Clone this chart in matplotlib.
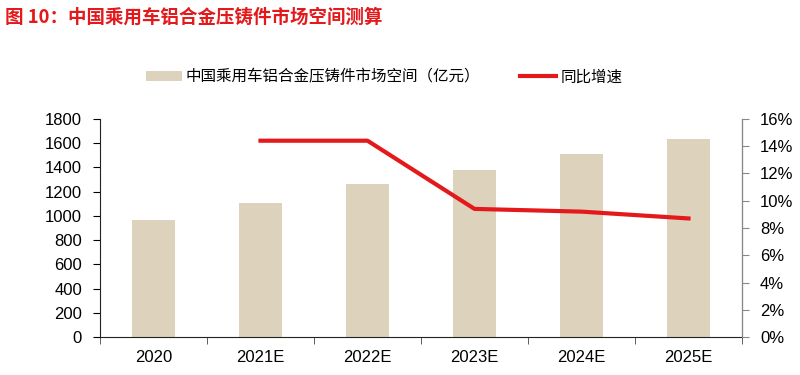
import matplotlib
matplotlib.use("Agg")
import matplotlib.pyplot as plt
import numpy as np

plt.rcParams['font.family'] = ['Liberation Sans', 'Noto Sans CJK SC', 'DejaVu Sans']

# data
years = ['2020', '2021E', '2022E', '2023E', '2024E', '2025E']
market = [966, 1106, 1263, 1379, 1511, 1635]
growth = [np.nan, 14.4, 14.4, 9.4, 9.2, 8.7]

bar_color = '#DDD3BD'
line_color = '#E3191C'

fig = plt.figure(figsize=(8, 3.75), dpi=100)
ax = fig.add_axes([0.125, 0.101, 0.8025, 0.582])
ax2 = ax.twinx()

x = np.arange(len(years))
ax.bar(x, market, width=0.4, color=bar_color, label='中国乘用车铝合金压铸件市场空间（亿元）', zorder=2)
ax2.plot(x, growth, color=line_color, lw=3, label='同比增速', zorder=3)

ax.set_xlim(-0.5, len(years) - 0.5)
ax.set_ylim(0, 1800)
ax.set_yticks(np.arange(0, 1801, 200))
ax2.set_ylim(0, 16)
ax2.set_yticks(np.arange(0, 17, 2))
ax2.set_yticklabels([f'{v}%' for v in range(0, 17, 2)])

ax.set_xticks(x)
ax.set_xticklabels(years)
ax.set_xticks(np.arange(-0.5, len(years), 1), minor=True)
ax.tick_params(axis='x', which='major', length=0, labelsize=12, pad=9)
ax.tick_params(axis='x', which='minor', length=5, direction='out', color='#444444')
ax.tick_params(axis='y', labelsize=12, length=5, direction='out', pad=8)
ax2.tick_params(axis='y', labelsize=12, length=5, direction='out', pad=8, color='#888888')

for a in (ax, ax2):
    a.spines['top'].set_visible(False)
ax.spines['left'].set_color('#222222')
ax.spines['bottom'].set_color('#222222')
ax2.spines['right'].set_color('#888888')
ax2.spines['left'].set_visible(False)
ax2.spines['bottom'].set_visible(False)

h1, l1 = ax.get_legend_handles_labels()
h2, l2 = ax2.get_legend_handles_labels()
fig.legend(h1 + h2, l1 + l2, loc='center', bbox_to_anchor=(0.48, 0.795), ncol=2,
           frameon=False, handlelength=2.3, handleheight=0.55,
           columnspacing=2.6, handletextpad=0.25,
           prop={'family': ['Noto Sans CJK SC'], 'size': 11.2})

fig.text(0.006, 0.955, '图 10：中国乘用车铝合金压铸件市场空间测算', color='#E3191C',
         fontsize=13.3, fontweight='bold', family=['Noto Sans CJK SC'], va='center')

fig.savefig('out.png', dpi=100)
